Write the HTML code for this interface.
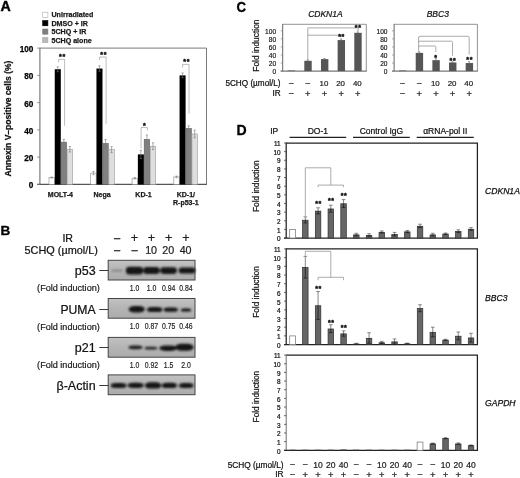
<!DOCTYPE html>
<html lang="en"><head><meta charset="utf-8"><title>Figure</title>
<style>
html,body{margin:0;padding:0;background:#fff;}
body{width:520px;height:478px;overflow:hidden;}
svg{display:block;filter:blur(0.32px);}
svg text{font-family:"Liberation Sans",sans-serif;}
</style></head><body>
<svg width="520" height="478" viewBox="0 0 520 478">
<rect x="0" y="0" width="520" height="478" fill="#fff"/>
<text x="0.5" y="11.2" font-size="14.2" text-anchor="start" font-weight="bold" font-style="normal" fill="#000" stroke="#000" stroke-width="0.4">A</text>
<text x="0.5" y="234.5" font-size="13.6" text-anchor="start" font-weight="bold" font-style="normal" fill="#000" stroke="#000" stroke-width="0.3">B</text>
<text x="0" y="0" font-size="14.4" text-anchor="start" font-weight="bold" font-style="normal" fill="#000" stroke="#000" stroke-width="0.3" transform="translate(236.6 11.5) scale(0.92 1)">C</text>
<text x="0" y="0" font-size="14.2" text-anchor="start" font-weight="bold" font-style="normal" fill="#000" stroke="#000" stroke-width="0.3" transform="translate(236.5 134.8) scale(0.99 1)">D</text>
<rect x="42.70" y="12.20" width="5.20" height="5.20" fill="#fff" stroke="#aaa" stroke-width="0.6"/>
<text x="51.5" y="17.4" font-size="7.1" text-anchor="start" font-weight="bold" font-style="normal" fill="#1a1a1a" stroke="#1a1a1a" stroke-width="0.25">Unirradiated</text>
<rect x="42.70" y="20.60" width="5.20" height="5.20" fill="#000" stroke="#000" stroke-width="0.6"/>
<text x="51.5" y="25.8" font-size="7.1" text-anchor="start" font-weight="bold" font-style="normal" fill="#1a1a1a" stroke="#1a1a1a" stroke-width="0.25">DMSO + IR</text>
<rect x="42.70" y="29.00" width="5.20" height="5.20" fill="#7d7d7d" stroke="#7d7d7d" stroke-width="0.6"/>
<text x="51.5" y="34.2" font-size="7.1" text-anchor="start" font-weight="bold" font-style="normal" fill="#1a1a1a" stroke="#1a1a1a" stroke-width="0.25">5CHQ + IR</text>
<rect x="42.70" y="37.50" width="5.20" height="5.20" fill="#b8b8b8" stroke="#aaa" stroke-width="0.6"/>
<text x="51.5" y="42.7" font-size="7.1" text-anchor="start" font-weight="bold" font-style="normal" fill="#1a1a1a" stroke="#1a1a1a" stroke-width="0.25">5CHQ alone</text>
<path d="M39.9 48.1H206.5V184.4" stroke="#7a7a7a" stroke-width="1" fill="none"/>
<line x1="39.9" y1="47.800000000000004" x2="39.9" y2="184.4" stroke="#707070" stroke-width="1.1"/>
<line x1="37.199999999999996" y1="184.4" x2="206.9" y2="184.4" stroke="#555" stroke-width="1.1"/>
<line x1="37.199999999999996" y1="184.4" x2="39.9" y2="184.4" stroke="#777" stroke-width="0.8"/>
<text x="33.4" y="188.3" font-size="8.2" text-anchor="end" font-weight="bold" font-style="normal" fill="#000" stroke="#000" stroke-width="0.25">0</text>
<line x1="37.199999999999996" y1="157.14000000000001" x2="39.9" y2="157.14000000000001" stroke="#777" stroke-width="0.8"/>
<text x="33.4" y="161.04000000000002" font-size="8.2" text-anchor="end" font-weight="bold" font-style="normal" fill="#000" stroke="#000" stroke-width="0.25">20</text>
<line x1="37.199999999999996" y1="129.88" x2="39.9" y2="129.88" stroke="#777" stroke-width="0.8"/>
<text x="33.4" y="133.78" font-size="8.2" text-anchor="end" font-weight="bold" font-style="normal" fill="#000" stroke="#000" stroke-width="0.25">40</text>
<line x1="37.199999999999996" y1="102.61999999999999" x2="39.9" y2="102.61999999999999" stroke="#777" stroke-width="0.8"/>
<text x="33.4" y="106.52" font-size="8.2" text-anchor="end" font-weight="bold" font-style="normal" fill="#000" stroke="#000" stroke-width="0.25">60</text>
<line x1="37.199999999999996" y1="75.36" x2="39.9" y2="75.36" stroke="#777" stroke-width="0.8"/>
<text x="33.4" y="79.26" font-size="8.2" text-anchor="end" font-weight="bold" font-style="normal" fill="#000" stroke="#000" stroke-width="0.25">80</text>
<line x1="37.199999999999996" y1="48.099999999999994" x2="39.9" y2="48.099999999999994" stroke="#777" stroke-width="0.8"/>
<text x="33.4" y="51.99999999999999" font-size="8.2" text-anchor="end" font-weight="bold" font-style="normal" fill="#000" stroke="#000" stroke-width="0.25">100</text>
<text x="10.5" y="118.5" font-size="8.55" text-anchor="middle" font-weight="bold" font-style="normal" fill="#111" transform="rotate(-90 10.5 118.5)" stroke="#111" stroke-width="0.25">Annexin V–positive cells (%)</text>
<rect x="49.00" y="177.59" width="5.45" height="6.81" fill="#fff" stroke="#8c8c8c" stroke-width="0.6"/>
<path d="M51.73 177.04V178.13M50.62 177.04H52.83M50.62 178.13H52.83" stroke="#777" stroke-width="0.6" fill="none"/>
<rect x="54.75" y="69.23" width="6.05" height="115.17" fill="#000" stroke="none" stroke-width="1"/>
<path d="M57.77 66.77V71.68M56.67 66.77H58.88M56.67 71.68H58.88" stroke="#777" stroke-width="0.6" fill="none"/>
<rect x="61.10" y="142.15" width="5.45" height="42.25" fill="#808080" stroke="#5c5c5c" stroke-width="0.6"/>
<path d="M63.83 139.42V144.87M62.73 139.42H64.92M62.73 144.87H64.92" stroke="#777" stroke-width="0.6" fill="none"/>
<rect x="67.15" y="149.23" width="5.45" height="35.17" fill="#dedede" stroke="#9a9a9a" stroke-width="0.6"/>
<path d="M69.88 146.51V151.96M68.78 146.51H70.97M68.78 151.96H70.97" stroke="#777" stroke-width="0.6" fill="none"/>
<text x="60.400000000000006" y="196.7" font-size="7" text-anchor="middle" font-weight="bold" font-style="normal" fill="#1a1a1a" stroke="#1a1a1a" stroke-width="0.25">MOLT-4</text>
<rect x="90.70" y="173.09" width="5.45" height="11.31" fill="#fff" stroke="#8c8c8c" stroke-width="0.6"/>
<path d="M93.43 171.45V174.72M92.33 171.45H94.53M92.33 174.72H94.53" stroke="#777" stroke-width="0.6" fill="none"/>
<rect x="96.45" y="68.54" width="6.05" height="115.86" fill="#000" stroke="none" stroke-width="1"/>
<path d="M99.48 65.82V71.27M98.38 65.82H100.58M98.38 71.27H100.58" stroke="#777" stroke-width="0.6" fill="none"/>
<rect x="102.80" y="143.51" width="5.45" height="40.89" fill="#808080" stroke="#5c5c5c" stroke-width="0.6"/>
<path d="M105.53 139.42V147.60M104.43 139.42H106.62M104.43 147.60H106.62" stroke="#777" stroke-width="0.6" fill="none"/>
<rect x="108.85" y="149.64" width="5.45" height="34.76" fill="#dedede" stroke="#9a9a9a" stroke-width="0.6"/>
<path d="M111.58 146.64V152.64M110.48 146.64H112.68M110.48 152.64H112.68" stroke="#777" stroke-width="0.6" fill="none"/>
<text x="102.1" y="196.7" font-size="7" text-anchor="middle" font-weight="bold" font-style="normal" fill="#1a1a1a" stroke="#1a1a1a" stroke-width="0.25">Nega</text>
<rect x="132.10" y="178.27" width="5.45" height="6.13" fill="#fff" stroke="#8c8c8c" stroke-width="0.6"/>
<path d="M134.83 177.59V178.95M133.73 177.59H135.93M133.73 178.95H135.93" stroke="#777" stroke-width="0.6" fill="none"/>
<rect x="137.85" y="154.41" width="6.05" height="29.99" fill="#000" stroke="none" stroke-width="1"/>
<path d="M140.88 150.32V158.50M139.78 150.32H141.98M139.78 158.50H141.98" stroke="#777" stroke-width="0.6" fill="none"/>
<rect x="144.20" y="139.42" width="5.45" height="44.98" fill="#808080" stroke="#5c5c5c" stroke-width="0.6"/>
<path d="M146.93 135.06V143.78M145.83 135.06H148.03M145.83 143.78H148.03" stroke="#777" stroke-width="0.6" fill="none"/>
<rect x="150.25" y="146.24" width="5.45" height="38.16" fill="#dedede" stroke="#9a9a9a" stroke-width="0.6"/>
<path d="M152.98 142.83V149.64M151.88 142.83H154.08M151.88 149.64H154.08" stroke="#777" stroke-width="0.6" fill="none"/>
<text x="143.5" y="196.7" font-size="7" text-anchor="middle" font-weight="bold" font-style="normal" fill="#1a1a1a" stroke="#1a1a1a" stroke-width="0.25">KD-1</text>
<rect x="173.80" y="176.90" width="5.45" height="7.50" fill="#fff" stroke="#8c8c8c" stroke-width="0.6"/>
<path d="M176.53 176.09V177.72M175.43 176.09H177.62M175.43 177.72H177.62" stroke="#777" stroke-width="0.6" fill="none"/>
<rect x="179.55" y="75.36" width="6.05" height="109.04" fill="#000" stroke="none" stroke-width="1"/>
<path d="M182.58 72.91V77.81M181.48 72.91H183.68M181.48 77.81H183.68" stroke="#777" stroke-width="0.6" fill="none"/>
<rect x="185.90" y="128.52" width="5.45" height="55.88" fill="#808080" stroke="#5c5c5c" stroke-width="0.6"/>
<path d="M188.62 125.79V131.24M187.53 125.79H189.72M187.53 131.24H189.72" stroke="#777" stroke-width="0.6" fill="none"/>
<rect x="191.95" y="133.97" width="5.45" height="50.43" fill="#dedede" stroke="#9a9a9a" stroke-width="0.6"/>
<path d="M194.68 130.15V137.79M193.58 130.15H195.78M193.58 137.79H195.78" stroke="#777" stroke-width="0.6" fill="none"/>
<text x="185.9" y="196.7" font-size="7" text-anchor="middle" font-weight="bold" font-style="normal" fill="#1a1a1a" stroke="#1a1a1a" stroke-width="0.25">KD-1/</text>
<text x="185.9" y="205.3" font-size="7" text-anchor="middle" font-weight="bold" font-style="normal" fill="#1a1a1a" stroke="#1a1a1a" stroke-width="0.25">R-p53-1</text>
<path d="M58.6 62.3V59.4H64.6V125.8" stroke="#999" stroke-width="0.65" fill="none"/>
<text x="62.49999999999999" y="58.9" font-size="7" text-anchor="middle" font-weight="bold" font-style="normal" fill="#111" stroke="#111" stroke-width="0.42" stroke-linejoin="round" letter-spacing="0.7">**</text>
<path d="M99.6 60.0V57.0H106.1V123.8" stroke="#999" stroke-width="0.65" fill="none"/>
<text x="103.75" y="57.0" font-size="7" text-anchor="middle" font-weight="bold" font-style="normal" fill="#111" stroke="#111" stroke-width="0.42" stroke-linejoin="round" letter-spacing="0.7">**</text>
<path d="M141.1 148.5V127.4H147.3V130.5" stroke="#999" stroke-width="0.65" fill="none"/>
<text x="144.6" y="127.6" font-size="7" text-anchor="middle" font-weight="bold" font-style="normal" fill="#111" stroke="#111" stroke-width="0.42" stroke-linejoin="round" letter-spacing="0.7">*</text>
<path d="M182.6 67.5V64.4H189.0V113.6" stroke="#999" stroke-width="0.65" fill="none"/>
<text x="186.70000000000002" y="63.9" font-size="7" text-anchor="middle" font-weight="bold" font-style="normal" fill="#111" stroke="#111" stroke-width="0.42" stroke-linejoin="round" letter-spacing="0.7">**</text>
<text x="73" y="241.6" font-size="10.6" text-anchor="end" font-weight="normal" font-style="normal" fill="#111" stroke="#111" stroke-width="0.22">IR</text>
<text x="98" y="254.2" font-size="10.9" text-anchor="end" font-weight="normal" font-style="normal" fill="#111" stroke="#111" stroke-width="0.22">5CHQ (µmol/L)</text>
<text x="117.0" y="242.5" font-size="12.6" text-anchor="middle" font-weight="normal" font-style="normal" fill="#222" stroke="#222" stroke-width="0.22">−</text>
<text x="117.0" y="254.60000000000002" font-size="12.5" text-anchor="middle" font-weight="normal" font-style="normal" fill="#222" stroke="#222" stroke-width="0.22">−</text>
<text x="134.5" y="242.2" font-size="12.6" text-anchor="middle" font-weight="normal" font-style="normal" fill="#222" stroke="#222" stroke-width="0.22">+</text>
<text x="134.5" y="254.60000000000002" font-size="12.5" text-anchor="middle" font-weight="normal" font-style="normal" fill="#222" stroke="#222" stroke-width="0.22">−</text>
<text x="151.5" y="242.2" font-size="12.6" text-anchor="middle" font-weight="normal" font-style="normal" fill="#222" stroke="#222" stroke-width="0.22">+</text>
<text x="151.1" y="254.3" font-size="10.7" text-anchor="middle" font-weight="normal" font-style="normal" fill="#222" stroke="#222" stroke-width="0.22">10</text>
<text x="168.6" y="242.2" font-size="12.6" text-anchor="middle" font-weight="normal" font-style="normal" fill="#222" stroke="#222" stroke-width="0.22">+</text>
<text x="168.2" y="254.3" font-size="10.7" text-anchor="middle" font-weight="normal" font-style="normal" fill="#222" stroke="#222" stroke-width="0.22">20</text>
<text x="186.0" y="242.2" font-size="12.6" text-anchor="middle" font-weight="normal" font-style="normal" fill="#222" stroke="#222" stroke-width="0.22">+</text>
<text x="185.6" y="254.3" font-size="10.7" text-anchor="middle" font-weight="normal" font-style="normal" fill="#222" stroke="#222" stroke-width="0.22">40</text>
<defs><linearGradient id="gelg" x1="0" y1="0" x2="0" y2="1"><stop offset="0" stop-color="#c2c2c2"/><stop offset="0.5" stop-color="#b4b4b4"/><stop offset="1" stop-color="#acacac"/></linearGradient><filter id="bl" x="-20%" y="-60%" width="140%" height="220%"><feGaussianBlur stdDeviation="0.85"/></filter></defs>
<rect x="108.20" y="260.30" width="86.80" height="19.70" fill="url(#gelg)" stroke="#444" stroke-width="1"/>
<line x1="99.3" y1="270.5" x2="108.2" y2="270.5" stroke="#222" stroke-width="0.9"/>
<text x="95.6" y="274.8" font-size="12.5" text-anchor="end" font-weight="normal" font-style="normal" fill="#111" stroke="#111" stroke-width="0.22">p53</text>
<g filter="url(#bl)">
<rect x="111.50" y="269.80" width="11" height="1.6" rx="0.76" ry="0.80" fill="#161616" opacity="0.3"/>
<rect x="125.80" y="266.70" width="17.4" height="7.8" rx="3.70" ry="3.90" fill="#161616" opacity="1"/>
<rect x="143.20" y="267.10" width="16.6" height="7.0" rx="3.32" ry="3.50" fill="#161616" opacity="1"/>
<rect x="160.30" y="267.30" width="16.6" height="6.6" rx="3.13" ry="3.30" fill="#161616" opacity="1"/>
<rect x="178.70" y="267.60" width="16.6" height="6.0" rx="2.85" ry="3.00" fill="#161616" opacity="1"/>
</g>
<rect x="108.20" y="298.50" width="86.80" height="19.70" fill="url(#gelg)" stroke="#444" stroke-width="1"/>
<line x1="99.3" y1="309.5" x2="108.2" y2="309.5" stroke="#222" stroke-width="0.9"/>
<text x="95.6" y="313.8" font-size="12.2" text-anchor="end" font-weight="normal" font-style="normal" fill="#111" stroke="#111" stroke-width="0.22">PUMA</text>
<g filter="url(#bl)">
<rect x="128.70" y="306.00" width="16" height="6.4" rx="5.28" ry="3.20" fill="#161616" opacity="1"/>
<rect x="147.00" y="306.90" width="15.4" height="5.2" rx="5.08" ry="2.60" fill="#161616" opacity="1"/>
<rect x="163.70" y="307.60" width="14.2" height="4.2" rx="4.69" ry="2.10" fill="#161616" opacity="1"/>
<rect x="180.80" y="308.45" width="10.4" height="3.1" rx="3.43" ry="1.55" fill="#161616" opacity="1"/>
</g>
<rect x="108.20" y="337.40" width="86.80" height="19.80" fill="url(#gelg)" stroke="#444" stroke-width="1"/>
<line x1="99.3" y1="347.5" x2="108.2" y2="347.5" stroke="#222" stroke-width="0.9"/>
<text x="95.6" y="351.8" font-size="12.5" text-anchor="end" font-weight="normal" font-style="normal" fill="#111" stroke="#111" stroke-width="0.22">p21</text>
<g filter="url(#bl)">
<rect x="128.50" y="345.40" width="14" height="3.8" rx="4.62" ry="1.90" fill="#161616" opacity="0.95"/>
<rect x="144.65" y="346.85" width="12.5" height="2.7" rx="4.12" ry="1.35" fill="#161616" opacity="0.9"/>
<rect x="159.45" y="345.50" width="17.5" height="5.4" rx="5.78" ry="2.70" fill="#161616" opacity="1"/>
<rect x="175.20" y="343.70" width="18.4" height="7.0" rx="6.07" ry="3.50" fill="#161616" opacity="1"/>
</g>
<rect x="108.20" y="374.90" width="86.80" height="19.80" fill="url(#gelg)" stroke="#444" stroke-width="1"/>
<line x1="99.3" y1="385.5" x2="108.2" y2="385.5" stroke="#222" stroke-width="0.9"/>
<text x="95.6" y="389.8" font-size="12.5" text-anchor="end" font-weight="normal" font-style="normal" fill="#111" stroke="#111" stroke-width="0.22">β-Actin</text>
<g filter="url(#bl)">
<rect x="110.70" y="382.90" width="15.8" height="5.0" rx="5.21" ry="2.50" fill="#161616" opacity="1"/>
<rect x="127.60" y="382.70" width="16.2" height="5.4" rx="5.35" ry="2.70" fill="#161616" opacity="1"/>
<rect x="144.90" y="382.20" width="16.4" height="6.4" rx="5.41" ry="3.20" fill="#161616" opacity="1"/>
<rect x="161.90" y="382.80" width="15" height="5.2" rx="4.95" ry="2.60" fill="#161616" opacity="1"/>
<rect x="178.90" y="382.90" width="14.6" height="5.0" rx="4.82" ry="2.50" fill="#161616" opacity="1"/>
</g>
<text x="99.8" y="291.1" font-size="9.1" text-anchor="end" font-weight="normal" font-style="normal" fill="#222" stroke="#222" stroke-width="0.22">(Fold induction)</text>
<text x="134.5" y="290.8" font-size="8.2" text-anchor="middle" font-weight="normal" font-style="normal" fill="#222" stroke="#222" stroke-width="0.18" transform="translate(134.5 0) scale(0.84 1) translate(-134.5 0)">1.0</text>
<text x="151.5" y="290.8" font-size="8.2" text-anchor="middle" font-weight="normal" font-style="normal" fill="#222" stroke="#222" stroke-width="0.18" transform="translate(151.5 0) scale(0.84 1) translate(-151.5 0)">1.0</text>
<text x="168.6" y="290.8" font-size="8.2" text-anchor="middle" font-weight="normal" font-style="normal" fill="#222" stroke="#222" stroke-width="0.18" transform="translate(168.6 0) scale(0.84 1) translate(-168.6 0)">0.94</text>
<text x="186.0" y="290.8" font-size="8.2" text-anchor="middle" font-weight="normal" font-style="normal" fill="#222" stroke="#222" stroke-width="0.18" transform="translate(186.0 0) scale(0.84 1) translate(-186.0 0)">0.84</text>
<text x="99.8" y="330.1" font-size="9.1" text-anchor="end" font-weight="normal" font-style="normal" fill="#222" stroke="#222" stroke-width="0.22">(Fold induction)</text>
<text x="134.5" y="329.3" font-size="8.2" text-anchor="middle" font-weight="normal" font-style="normal" fill="#222" stroke="#222" stroke-width="0.18" transform="translate(134.5 0) scale(0.84 1) translate(-134.5 0)">1.0</text>
<text x="151.5" y="329.3" font-size="8.2" text-anchor="middle" font-weight="normal" font-style="normal" fill="#222" stroke="#222" stroke-width="0.18" transform="translate(151.5 0) scale(0.84 1) translate(-151.5 0)">0.87</text>
<text x="168.6" y="329.3" font-size="8.2" text-anchor="middle" font-weight="normal" font-style="normal" fill="#222" stroke="#222" stroke-width="0.18" transform="translate(168.6 0) scale(0.84 1) translate(-168.6 0)">0.75</text>
<text x="186.0" y="329.3" font-size="8.2" text-anchor="middle" font-weight="normal" font-style="normal" fill="#222" stroke="#222" stroke-width="0.18" transform="translate(186.0 0) scale(0.84 1) translate(-186.0 0)">0.46</text>
<text x="99.8" y="368.3" font-size="9.1" text-anchor="end" font-weight="normal" font-style="normal" fill="#222" stroke="#222" stroke-width="0.22">(Fold induction)</text>
<text x="134.5" y="368.0" font-size="8.2" text-anchor="middle" font-weight="normal" font-style="normal" fill="#222" stroke="#222" stroke-width="0.18" transform="translate(134.5 0) scale(0.84 1) translate(-134.5 0)">1.0</text>
<text x="151.5" y="368.0" font-size="8.2" text-anchor="middle" font-weight="normal" font-style="normal" fill="#222" stroke="#222" stroke-width="0.18" transform="translate(151.5 0) scale(0.84 1) translate(-151.5 0)">0.92</text>
<text x="168.6" y="368.0" font-size="8.2" text-anchor="middle" font-weight="normal" font-style="normal" fill="#222" stroke="#222" stroke-width="0.18" transform="translate(168.6 0) scale(0.84 1) translate(-168.6 0)">1.5</text>
<text x="186.0" y="368.0" font-size="8.2" text-anchor="middle" font-weight="normal" font-style="normal" fill="#222" stroke="#222" stroke-width="0.18" transform="translate(186.0 0) scale(0.84 1) translate(-186.0 0)">2.0</text>
<path d="M282.7 24.3H366.3V71.1" stroke="#777" stroke-width="0.8" fill="none"/>
<line x1="282.7" y1="23.900000000000002" x2="282.7" y2="71.1" stroke="#666" stroke-width="1"/>
<line x1="280.7" y1="71.1" x2="366.7" y2="71.1" stroke="#555" stroke-width="1"/>
<line x1="280.59999999999997" y1="71.1" x2="282.7" y2="71.1" stroke="#888" stroke-width="0.7"/>
<text x="276.09999999999997" y="73.8" font-size="6.6" text-anchor="end" font-weight="normal" font-style="normal" fill="#111" stroke="#111" stroke-width="0.15">0</text>
<line x1="280.59999999999997" y1="63.03999999999999" x2="282.7" y2="63.03999999999999" stroke="#888" stroke-width="0.7"/>
<text x="276.09999999999997" y="65.74" font-size="6.6" text-anchor="end" font-weight="normal" font-style="normal" fill="#111" stroke="#111" stroke-width="0.15">20</text>
<line x1="280.59999999999997" y1="54.97999999999999" x2="282.7" y2="54.97999999999999" stroke="#888" stroke-width="0.7"/>
<text x="276.09999999999997" y="57.67999999999999" font-size="6.6" text-anchor="end" font-weight="normal" font-style="normal" fill="#111" stroke="#111" stroke-width="0.15">40</text>
<line x1="280.59999999999997" y1="46.919999999999995" x2="282.7" y2="46.919999999999995" stroke="#888" stroke-width="0.7"/>
<text x="276.09999999999997" y="49.62" font-size="6.6" text-anchor="end" font-weight="normal" font-style="normal" fill="#111" stroke="#111" stroke-width="0.15">60</text>
<line x1="280.59999999999997" y1="38.85999999999999" x2="282.7" y2="38.85999999999999" stroke="#888" stroke-width="0.7"/>
<text x="276.09999999999997" y="41.559999999999995" font-size="6.6" text-anchor="end" font-weight="normal" font-style="normal" fill="#111" stroke="#111" stroke-width="0.15">80</text>
<line x1="280.59999999999997" y1="30.79999999999999" x2="282.7" y2="30.79999999999999" stroke="#888" stroke-width="0.7"/>
<text x="276.09999999999997" y="33.49999999999999" font-size="6.6" text-anchor="end" font-weight="normal" font-style="normal" fill="#111" stroke="#111" stroke-width="0.15">100</text>
<text x="325.4" y="16.9" font-size="8.5" text-anchor="middle" font-weight="normal" font-style="italic" fill="#111" stroke="#111" stroke-width="0.22">CDKN1A</text>
<rect x="287.65" y="70.50" width="7.40" height="0.60" fill="#565656" stroke="none" stroke-width="1"/>
<text x="291.15" y="86.7" font-size="9.4" text-anchor="middle" font-weight="normal" font-style="normal" fill="#222" stroke="#222" stroke-width="0.22">−</text>
<text x="291.15" y="96.7" font-size="9.4" text-anchor="middle" font-weight="normal" font-style="normal" fill="#222" stroke="#222" stroke-width="0.22">−</text>
<rect x="304.31" y="60.82" width="7.40" height="10.28" fill="#565656" stroke="none" stroke-width="1"/>
<path d="M307.81 59.61V60.82M306.81 59.61H308.81M306.81 60.82H308.81" stroke="#777" stroke-width="0.6" fill="none"/>
<text x="307.81" y="86.7" font-size="9.4" text-anchor="middle" font-weight="normal" font-style="normal" fill="#222" stroke="#222" stroke-width="0.22">−</text>
<text x="307.81" y="96.7" font-size="9.4" text-anchor="middle" font-weight="normal" font-style="normal" fill="#222" stroke="#222" stroke-width="0.22">+</text>
<rect x="320.97" y="59.09" width="7.40" height="12.01" fill="#565656" stroke="none" stroke-width="1"/>
<path d="M324.47 58.49V59.09M323.47 58.49H325.47M323.47 59.09H325.47" stroke="#777" stroke-width="0.6" fill="none"/>
<text x="323.96999999999997" y="86.2" font-size="7.9" text-anchor="middle" font-weight="normal" font-style="normal" fill="#222" stroke="#222" stroke-width="0.22">10</text>
<text x="324.46999999999997" y="96.7" font-size="9.4" text-anchor="middle" font-weight="normal" font-style="normal" fill="#222" stroke="#222" stroke-width="0.22">+</text>
<rect x="337.63" y="40.07" width="7.40" height="31.03" fill="#565656" stroke="none" stroke-width="1"/>
<path d="M341.13 38.86V40.07M340.13 38.86H342.13M340.13 40.07H342.13" stroke="#777" stroke-width="0.6" fill="none"/>
<text x="340.63" y="86.2" font-size="7.9" text-anchor="middle" font-weight="normal" font-style="normal" fill="#222" stroke="#222" stroke-width="0.22">20</text>
<text x="341.13" y="96.7" font-size="9.4" text-anchor="middle" font-weight="normal" font-style="normal" fill="#222" stroke="#222" stroke-width="0.22">+</text>
<rect x="354.29" y="32.81" width="7.40" height="38.29" fill="#565656" stroke="none" stroke-width="1"/>
<path d="M357.79 30.80V32.81M356.79 30.80H358.79M356.79 32.81H358.79" stroke="#777" stroke-width="0.6" fill="none"/>
<text x="357.28999999999996" y="86.2" font-size="7.9" text-anchor="middle" font-weight="normal" font-style="normal" fill="#222" stroke="#222" stroke-width="0.22">40</text>
<text x="357.78999999999996" y="96.7" font-size="9.4" text-anchor="middle" font-weight="normal" font-style="normal" fill="#222" stroke="#222" stroke-width="0.22">+</text>
<text x="280.6" y="86.2" font-size="8.2" text-anchor="end" font-weight="normal" font-style="normal" fill="#111" stroke="#111" stroke-width="0.22">5CHQ (µmol/L)</text>
<text x="280.6" y="95.9" font-size="8.2" text-anchor="end" font-weight="normal" font-style="normal" fill="#111" stroke="#111" stroke-width="0.22">IR</text>
<text x="259.3" y="45.6" font-size="8.4" text-anchor="middle" font-weight="normal" font-style="normal" fill="#111" transform="rotate(-90 259.3 45.6)" stroke="#111" stroke-width="0.22">Fold induction</text>
<path d="M307.81 59.211499999999994V27.9H358.18999999999994V30.0" stroke="#888" stroke-width="0.7" fill="none"/>
<path d="M307.81 35.2H341.13V37.2" stroke="#888" stroke-width="0.7" fill="none"/>
<text x="341.63" y="39.4" font-size="7.0" text-anchor="middle" font-weight="bold" font-style="normal" fill="#111" stroke="#111" stroke-width="0.42" stroke-linejoin="round" letter-spacing="0.7">**</text>
<text x="358.28999999999996" y="29.9" font-size="7.0" text-anchor="middle" font-weight="bold" font-style="normal" fill="#111" stroke="#111" stroke-width="0.42" stroke-linejoin="round" letter-spacing="0.7">**</text>
<path d="M394.1 24.3H477.4V71.1" stroke="#777" stroke-width="0.8" fill="none"/>
<line x1="394.1" y1="23.900000000000002" x2="394.1" y2="71.1" stroke="#666" stroke-width="1"/>
<line x1="392.1" y1="71.1" x2="477.79999999999995" y2="71.1" stroke="#555" stroke-width="1"/>
<line x1="392.0" y1="71.1" x2="394.1" y2="71.1" stroke="#888" stroke-width="0.7"/>
<text x="387.5" y="73.8" font-size="6.6" text-anchor="end" font-weight="normal" font-style="normal" fill="#111" stroke="#111" stroke-width="0.15">0</text>
<line x1="392.0" y1="63.03999999999999" x2="394.1" y2="63.03999999999999" stroke="#888" stroke-width="0.7"/>
<text x="387.5" y="65.74" font-size="6.6" text-anchor="end" font-weight="normal" font-style="normal" fill="#111" stroke="#111" stroke-width="0.15">20</text>
<line x1="392.0" y1="54.97999999999999" x2="394.1" y2="54.97999999999999" stroke="#888" stroke-width="0.7"/>
<text x="387.5" y="57.67999999999999" font-size="6.6" text-anchor="end" font-weight="normal" font-style="normal" fill="#111" stroke="#111" stroke-width="0.15">40</text>
<line x1="392.0" y1="46.919999999999995" x2="394.1" y2="46.919999999999995" stroke="#888" stroke-width="0.7"/>
<text x="387.5" y="49.62" font-size="6.6" text-anchor="end" font-weight="normal" font-style="normal" fill="#111" stroke="#111" stroke-width="0.15">60</text>
<line x1="392.0" y1="38.85999999999999" x2="394.1" y2="38.85999999999999" stroke="#888" stroke-width="0.7"/>
<text x="387.5" y="41.559999999999995" font-size="6.6" text-anchor="end" font-weight="normal" font-style="normal" fill="#111" stroke="#111" stroke-width="0.15">80</text>
<line x1="392.0" y1="30.79999999999999" x2="394.1" y2="30.79999999999999" stroke="#888" stroke-width="0.7"/>
<text x="387.5" y="33.49999999999999" font-size="6.6" text-anchor="end" font-weight="normal" font-style="normal" fill="#111" stroke="#111" stroke-width="0.15">100</text>
<text x="437.8" y="16.9" font-size="8.5" text-anchor="middle" font-weight="normal" font-style="italic" fill="#111" stroke="#111" stroke-width="0.22">BBC3</text>
<rect x="399.05" y="70.50" width="7.40" height="0.60" fill="#565656" stroke="none" stroke-width="1"/>
<text x="402.55" y="86.7" font-size="9.4" text-anchor="middle" font-weight="normal" font-style="normal" fill="#222" stroke="#222" stroke-width="0.22">−</text>
<text x="402.55" y="96.7" font-size="9.4" text-anchor="middle" font-weight="normal" font-style="normal" fill="#222" stroke="#222" stroke-width="0.22">−</text>
<rect x="415.71" y="52.88" width="7.40" height="18.22" fill="#565656" stroke="none" stroke-width="1"/>
<path d="M419.21 51.68V52.88M418.21 51.68H420.21M418.21 52.88H420.21" stroke="#777" stroke-width="0.6" fill="none"/>
<text x="419.21000000000004" y="86.7" font-size="9.4" text-anchor="middle" font-weight="normal" font-style="normal" fill="#222" stroke="#222" stroke-width="0.22">−</text>
<text x="419.21000000000004" y="96.7" font-size="9.4" text-anchor="middle" font-weight="normal" font-style="normal" fill="#222" stroke="#222" stroke-width="0.22">+</text>
<rect x="432.37" y="60.14" width="7.40" height="10.96" fill="#565656" stroke="none" stroke-width="1"/>
<path d="M435.87 58.53V60.14M434.87 58.53H436.87M434.87 60.14H436.87" stroke="#777" stroke-width="0.6" fill="none"/>
<text x="435.37" y="86.2" font-size="7.9" text-anchor="middle" font-weight="normal" font-style="normal" fill="#222" stroke="#222" stroke-width="0.22">10</text>
<text x="435.87" y="96.7" font-size="9.4" text-anchor="middle" font-weight="normal" font-style="normal" fill="#222" stroke="#222" stroke-width="0.22">+</text>
<rect x="449.03" y="62.44" width="7.40" height="8.66" fill="#565656" stroke="none" stroke-width="1"/>
<path d="M452.53 61.23V62.44M451.53 61.23H453.53M451.53 62.44H453.53" stroke="#777" stroke-width="0.6" fill="none"/>
<text x="452.03000000000003" y="86.2" font-size="7.9" text-anchor="middle" font-weight="normal" font-style="normal" fill="#222" stroke="#222" stroke-width="0.22">20</text>
<text x="452.53000000000003" y="96.7" font-size="9.4" text-anchor="middle" font-weight="normal" font-style="normal" fill="#222" stroke="#222" stroke-width="0.22">+</text>
<rect x="465.69" y="63.04" width="7.40" height="8.06" fill="#565656" stroke="none" stroke-width="1"/>
<path d="M469.19 61.43V63.04M468.19 61.43H470.19M468.19 63.04H470.19" stroke="#777" stroke-width="0.6" fill="none"/>
<text x="468.69" y="86.2" font-size="7.9" text-anchor="middle" font-weight="normal" font-style="normal" fill="#222" stroke="#222" stroke-width="0.22">40</text>
<text x="469.19" y="96.7" font-size="9.4" text-anchor="middle" font-weight="normal" font-style="normal" fill="#222" stroke="#222" stroke-width="0.22">+</text>
<path d="M418.61 37.5Q418.61 36.3 419.81 36.3H467.99Q469.19 36.3 469.19 37.5V54.6" stroke="#888" stroke-width="0.7" fill="none"/>
<path d="M418.61 42.400000000000006Q418.61 41.2 419.81 41.2H451.33000000000004Q452.53000000000003 41.2 452.53000000000003 42.400000000000006V55.8" stroke="#888" stroke-width="0.7" fill="none"/>
<path d="M418.61 47.2Q418.61 46.0 419.81 46.0H434.67Q435.87 46.0 435.87 47.2V52.0" stroke="#888" stroke-width="0.7" fill="none"/>
<line x1="418.61" y1="37" x2="418.61" y2="51.5" stroke="#888" stroke-width="0.7"/>
<text x="435.87" y="59.7" font-size="7.0" text-anchor="middle" font-weight="bold" font-style="normal" fill="#111" stroke="#111" stroke-width="0.42" stroke-linejoin="round" letter-spacing="0.7">*</text>
<text x="453.03000000000003" y="63.3" font-size="7.0" text-anchor="middle" font-weight="bold" font-style="normal" fill="#111" stroke="#111" stroke-width="0.42" stroke-linejoin="round" letter-spacing="0.7">**</text>
<text x="469.69" y="61.6" font-size="7.0" text-anchor="middle" font-weight="bold" font-style="normal" fill="#111" stroke="#111" stroke-width="0.42" stroke-linejoin="round" letter-spacing="0.7">**</text>
<text x="270.2" y="134.4" font-size="8.5" text-anchor="start" font-weight="normal" font-style="normal" fill="#111" stroke="#111" stroke-width="0.22">IP</text>
<text x="317.9" y="134.4" font-size="8.5" text-anchor="middle" font-weight="normal" font-style="normal" fill="#111" stroke="#111" stroke-width="0.22">DO-1</text>
<line x1="289.6" y1="137.4" x2="346.2" y2="137.4" stroke="#222" stroke-width="1.1"/>
<text x="381.4" y="134.4" font-size="8.5" text-anchor="middle" font-weight="normal" font-style="normal" fill="#111" stroke="#111" stroke-width="0.22">Control IgG</text>
<line x1="353.0" y1="137.4" x2="409.8" y2="137.4" stroke="#222" stroke-width="1.1"/>
<text x="445.25" y="134.4" font-size="8.5" text-anchor="middle" font-weight="normal" font-style="normal" fill="#111" stroke="#111" stroke-width="0.22">αRNA-pol II</text>
<line x1="416.7" y1="137.4" x2="473.8" y2="137.4" stroke="#222" stroke-width="1.1"/>
<path d="M286.2 143.0H477.4V238.04000000000002" stroke="#222" stroke-width="1.25" fill="none"/>
<line x1="286.2" y1="142.4" x2="286.2" y2="238.04000000000002" stroke="#222" stroke-width="1.25"/>
<line x1="284.0" y1="238.04000000000002" x2="478.0" y2="238.04000000000002" stroke="#222" stroke-width="1.25"/>
<line x1="284.0" y1="238.04000000000002" x2="286.2" y2="238.04000000000002" stroke="#333" stroke-width="0.7"/>
<text x="280.6" y="241.14000000000001" font-size="6.4" text-anchor="end" font-weight="normal" font-style="normal" fill="#111" stroke="#111" stroke-width="0.22">0</text>
<line x1="284.0" y1="229.40000000000003" x2="286.2" y2="229.40000000000003" stroke="#333" stroke-width="0.7"/>
<text x="280.6" y="232.50000000000003" font-size="6.4" text-anchor="end" font-weight="normal" font-style="normal" fill="#111" stroke="#111" stroke-width="0.22">1</text>
<line x1="284.0" y1="220.76000000000002" x2="286.2" y2="220.76000000000002" stroke="#333" stroke-width="0.7"/>
<text x="280.6" y="223.86" font-size="6.4" text-anchor="end" font-weight="normal" font-style="normal" fill="#111" stroke="#111" stroke-width="0.22">2</text>
<line x1="284.0" y1="212.12" x2="286.2" y2="212.12" stroke="#333" stroke-width="0.7"/>
<text x="280.6" y="215.22" font-size="6.4" text-anchor="end" font-weight="normal" font-style="normal" fill="#111" stroke="#111" stroke-width="0.22">3</text>
<line x1="284.0" y1="203.48000000000002" x2="286.2" y2="203.48000000000002" stroke="#333" stroke-width="0.7"/>
<text x="280.6" y="206.58" font-size="6.4" text-anchor="end" font-weight="normal" font-style="normal" fill="#111" stroke="#111" stroke-width="0.22">4</text>
<line x1="284.0" y1="194.84000000000003" x2="286.2" y2="194.84000000000003" stroke="#333" stroke-width="0.7"/>
<text x="280.6" y="197.94000000000003" font-size="6.4" text-anchor="end" font-weight="normal" font-style="normal" fill="#111" stroke="#111" stroke-width="0.22">5</text>
<line x1="284.0" y1="186.20000000000002" x2="286.2" y2="186.20000000000002" stroke="#333" stroke-width="0.7"/>
<text x="280.6" y="189.3" font-size="6.4" text-anchor="end" font-weight="normal" font-style="normal" fill="#111" stroke="#111" stroke-width="0.22">6</text>
<line x1="284.0" y1="177.56" x2="286.2" y2="177.56" stroke="#333" stroke-width="0.7"/>
<text x="280.6" y="180.66" font-size="6.4" text-anchor="end" font-weight="normal" font-style="normal" fill="#111" stroke="#111" stroke-width="0.22">7</text>
<line x1="284.0" y1="168.92000000000002" x2="286.2" y2="168.92000000000002" stroke="#333" stroke-width="0.7"/>
<text x="280.6" y="172.02" font-size="6.4" text-anchor="end" font-weight="normal" font-style="normal" fill="#111" stroke="#111" stroke-width="0.22">8</text>
<line x1="284.0" y1="160.28000000000003" x2="286.2" y2="160.28000000000003" stroke="#333" stroke-width="0.7"/>
<text x="280.6" y="163.38000000000002" font-size="6.4" text-anchor="end" font-weight="normal" font-style="normal" fill="#111" stroke="#111" stroke-width="0.22">9</text>
<line x1="284.0" y1="151.64000000000001" x2="286.2" y2="151.64000000000001" stroke="#333" stroke-width="0.7"/>
<text x="280.6" y="154.74" font-size="6.4" text-anchor="end" font-weight="normal" font-style="normal" fill="#111" stroke="#111" stroke-width="0.22">10</text>
<line x1="284.0" y1="143.0" x2="286.2" y2="143.0" stroke="#333" stroke-width="0.7"/>
<text x="280.6" y="146.1" font-size="6.4" text-anchor="end" font-weight="normal" font-style="normal" fill="#111" stroke="#111" stroke-width="0.22">11</text>
<text x="259.4" y="186.2" font-size="8.3" text-anchor="middle" font-weight="normal" font-style="normal" fill="#111" transform="rotate(-90 259.4 186.2)" stroke="#111" stroke-width="0.22">Fold induction</text>
<text x="485.0" y="194.2" font-size="8.6" text-anchor="start" font-weight="normal" font-style="italic" fill="#111" stroke="#111" stroke-width="0.25">CDKN1A</text>
<rect x="289.67" y="229.40" width="5.80" height="8.64" fill="#fff" stroke="#808080" stroke-width="0.8"/>
<rect x="302.57" y="220.20" width="5.50" height="17.84" fill="#666" stroke="#2c2c2c" stroke-width="0.7"/>
<path d="M305.32 216.87V219.90M303.52 216.87H307.12" stroke="#555" stroke-width="0.7" fill="none"/>
<path d="M305.32 219.90V222.92M303.52 222.92H307.12" stroke="#1a1a1a" stroke-width="0.75" fill="none"/>
<rect x="315.32" y="211.12" width="5.50" height="26.92" fill="#666" stroke="#2c2c2c" stroke-width="0.7"/>
<path d="M318.07 207.80V210.82M316.27 207.80H319.87" stroke="#555" stroke-width="0.7" fill="none"/>
<path d="M318.07 210.82V213.85M316.27 213.85H319.87" stroke="#1a1a1a" stroke-width="0.75" fill="none"/>
<rect x="328.06" y="208.96" width="5.50" height="29.08" fill="#666" stroke="#2c2c2c" stroke-width="0.7"/>
<path d="M330.81 205.21V208.66M329.01 205.21H332.61" stroke="#555" stroke-width="0.7" fill="none"/>
<path d="M330.81 208.66V212.12M329.01 212.12H332.61" stroke="#1a1a1a" stroke-width="0.75" fill="none"/>
<rect x="340.81" y="203.78" width="5.50" height="34.26" fill="#666" stroke="#2c2c2c" stroke-width="0.7"/>
<path d="M343.56 199.59V203.48M341.76 199.59H345.36" stroke="#555" stroke-width="0.7" fill="none"/>
<path d="M343.56 203.48V207.37M341.76 207.37H345.36" stroke="#1a1a1a" stroke-width="0.75" fill="none"/>
<rect x="353.56" y="234.88" width="5.50" height="3.16" fill="#666" stroke="#2c2c2c" stroke-width="0.7"/>
<path d="M356.31 233.29V234.58M354.51 233.29H358.11" stroke="#555" stroke-width="0.7" fill="none"/>
<path d="M356.31 234.58V235.88M354.51 235.88H358.11" stroke="#1a1a1a" stroke-width="0.75" fill="none"/>
<rect x="366.30" y="235.32" width="5.50" height="2.72" fill="#666" stroke="#2c2c2c" stroke-width="0.7"/>
<path d="M369.05 233.72V235.02M367.25 233.72H370.85" stroke="#555" stroke-width="0.7" fill="none"/>
<path d="M369.05 235.02V236.31M367.25 236.31H370.85" stroke="#1a1a1a" stroke-width="0.75" fill="none"/>
<rect x="379.05" y="232.29" width="5.50" height="5.75" fill="#666" stroke="#2c2c2c" stroke-width="0.7"/>
<path d="M381.80 230.96V231.99M380.00 230.96H383.60" stroke="#555" stroke-width="0.7" fill="none"/>
<path d="M381.80 231.99V233.03M380.00 233.03H383.60" stroke="#1a1a1a" stroke-width="0.75" fill="none"/>
<rect x="391.80" y="234.45" width="5.50" height="3.59" fill="#666" stroke="#2c2c2c" stroke-width="0.7"/>
<path d="M394.55 232.42V234.15M392.75 232.42H396.35" stroke="#555" stroke-width="0.7" fill="none"/>
<path d="M394.55 234.15V235.88M392.75 235.88H396.35" stroke="#1a1a1a" stroke-width="0.75" fill="none"/>
<rect x="404.54" y="231.86" width="5.50" height="6.18" fill="#666" stroke="#2c2c2c" stroke-width="0.7"/>
<path d="M407.29 230.52V231.56M405.49 230.52H409.09" stroke="#555" stroke-width="0.7" fill="none"/>
<path d="M407.29 231.56V232.60M405.49 232.60H409.09" stroke="#1a1a1a" stroke-width="0.75" fill="none"/>
<rect x="417.29" y="226.24" width="5.50" height="11.80" fill="#666" stroke="#2c2c2c" stroke-width="0.7"/>
<path d="M420.04 224.22V225.94M418.24 224.22H421.84" stroke="#555" stroke-width="0.7" fill="none"/>
<path d="M420.04 225.94V227.67M418.24 227.67H421.84" stroke="#1a1a1a" stroke-width="0.75" fill="none"/>
<rect x="430.04" y="234.88" width="5.50" height="3.16" fill="#666" stroke="#2c2c2c" stroke-width="0.7"/>
<path d="M432.79 233.29V234.58M430.99 233.29H434.59" stroke="#555" stroke-width="0.7" fill="none"/>
<path d="M432.79 234.58V235.88M430.99 235.88H434.59" stroke="#1a1a1a" stroke-width="0.75" fill="none"/>
<rect x="442.78" y="234.02" width="5.50" height="4.02" fill="#666" stroke="#2c2c2c" stroke-width="0.7"/>
<path d="M445.53 233.03V233.72M443.73 233.03H447.33" stroke="#555" stroke-width="0.7" fill="none"/>
<path d="M445.53 233.72V234.41M443.73 234.41H447.33" stroke="#1a1a1a" stroke-width="0.75" fill="none"/>
<rect x="455.53" y="231.43" width="5.50" height="6.61" fill="#666" stroke="#2c2c2c" stroke-width="0.7"/>
<path d="M458.28 229.83V231.13M456.48 229.83H460.08" stroke="#555" stroke-width="0.7" fill="none"/>
<path d="M458.28 231.13V232.42M456.48 232.42H460.08" stroke="#1a1a1a" stroke-width="0.75" fill="none"/>
<rect x="468.28" y="229.27" width="5.50" height="8.77" fill="#666" stroke="#2c2c2c" stroke-width="0.7"/>
<path d="M471.03 227.67V228.97M469.23 227.67H472.83" stroke="#555" stroke-width="0.7" fill="none"/>
<path d="M471.03 228.97V230.26M469.23 230.26H472.83" stroke="#1a1a1a" stroke-width="0.75" fill="none"/>
<path d="M305.32 216V167.8H330.81333333333333V185.1M318.06666666666666 187.2V185.1H343.56V187.2" stroke="#888" stroke-width="0.7" fill="none"/>
<text x="318.56666666666666" y="205.6" font-size="7.0" text-anchor="middle" font-weight="bold" font-style="normal" fill="#111" stroke="#111" stroke-width="0.42" stroke-linejoin="round" letter-spacing="0.7">**</text>
<text x="331.31333333333333" y="202.7" font-size="7.0" text-anchor="middle" font-weight="bold" font-style="normal" fill="#111" stroke="#111" stroke-width="0.42" stroke-linejoin="round" letter-spacing="0.7">**</text>
<text x="344.06" y="197.5" font-size="7.0" text-anchor="middle" font-weight="bold" font-style="normal" fill="#111" stroke="#111" stroke-width="0.42" stroke-linejoin="round" letter-spacing="0.7">**</text>
<path d="M286.2 248.9H477.4V344.6" stroke="#222" stroke-width="1.25" fill="none"/>
<line x1="286.2" y1="248.3" x2="286.2" y2="344.6" stroke="#222" stroke-width="1.25"/>
<line x1="284.0" y1="344.6" x2="478.0" y2="344.6" stroke="#222" stroke-width="1.25"/>
<line x1="284.0" y1="344.6" x2="286.2" y2="344.6" stroke="#333" stroke-width="0.7"/>
<text x="280.6" y="348.00000000000006" font-size="6.4" text-anchor="end" font-weight="normal" font-style="normal" fill="#111" stroke="#111" stroke-width="0.22">0</text>
<line x1="284.0" y1="335.90000000000003" x2="286.2" y2="335.90000000000003" stroke="#333" stroke-width="0.7"/>
<text x="280.6" y="339.30000000000007" font-size="6.4" text-anchor="end" font-weight="normal" font-style="normal" fill="#111" stroke="#111" stroke-width="0.22">1</text>
<line x1="284.0" y1="327.20000000000005" x2="286.2" y2="327.20000000000005" stroke="#333" stroke-width="0.7"/>
<text x="280.6" y="330.6000000000001" font-size="6.4" text-anchor="end" font-weight="normal" font-style="normal" fill="#111" stroke="#111" stroke-width="0.22">2</text>
<line x1="284.0" y1="318.5" x2="286.2" y2="318.5" stroke="#333" stroke-width="0.7"/>
<text x="280.6" y="321.90000000000003" font-size="6.4" text-anchor="end" font-weight="normal" font-style="normal" fill="#111" stroke="#111" stroke-width="0.22">3</text>
<line x1="284.0" y1="309.8" x2="286.2" y2="309.8" stroke="#333" stroke-width="0.7"/>
<text x="280.6" y="313.20000000000005" font-size="6.4" text-anchor="end" font-weight="normal" font-style="normal" fill="#111" stroke="#111" stroke-width="0.22">4</text>
<line x1="284.0" y1="301.1" x2="286.2" y2="301.1" stroke="#333" stroke-width="0.7"/>
<text x="280.6" y="304.50000000000006" font-size="6.4" text-anchor="end" font-weight="normal" font-style="normal" fill="#111" stroke="#111" stroke-width="0.22">5</text>
<line x1="284.0" y1="292.40000000000003" x2="286.2" y2="292.40000000000003" stroke="#333" stroke-width="0.7"/>
<text x="280.6" y="295.80000000000007" font-size="6.4" text-anchor="end" font-weight="normal" font-style="normal" fill="#111" stroke="#111" stroke-width="0.22">6</text>
<line x1="284.0" y1="283.70000000000005" x2="286.2" y2="283.70000000000005" stroke="#333" stroke-width="0.7"/>
<text x="280.6" y="287.1000000000001" font-size="6.4" text-anchor="end" font-weight="normal" font-style="normal" fill="#111" stroke="#111" stroke-width="0.22">7</text>
<line x1="284.0" y1="275.0" x2="286.2" y2="275.0" stroke="#333" stroke-width="0.7"/>
<text x="280.6" y="278.40000000000003" font-size="6.4" text-anchor="end" font-weight="normal" font-style="normal" fill="#111" stroke="#111" stroke-width="0.22">8</text>
<line x1="284.0" y1="266.3" x2="286.2" y2="266.3" stroke="#333" stroke-width="0.7"/>
<text x="280.6" y="269.70000000000005" font-size="6.4" text-anchor="end" font-weight="normal" font-style="normal" fill="#111" stroke="#111" stroke-width="0.22">9</text>
<line x1="284.0" y1="257.6" x2="286.2" y2="257.6" stroke="#333" stroke-width="0.7"/>
<text x="280.6" y="261.00000000000006" font-size="6.4" text-anchor="end" font-weight="normal" font-style="normal" fill="#111" stroke="#111" stroke-width="0.22">10</text>
<line x1="284.0" y1="248.90000000000003" x2="286.2" y2="248.90000000000003" stroke="#333" stroke-width="0.7"/>
<text x="280.6" y="252.30000000000004" font-size="6.4" text-anchor="end" font-weight="normal" font-style="normal" fill="#111" stroke="#111" stroke-width="0.22">11</text>
<text x="259.4" y="292.0" font-size="8.3" text-anchor="middle" font-weight="normal" font-style="normal" fill="#111" transform="rotate(-90 259.4 292.0)" stroke="#111" stroke-width="0.22">Fold induction</text>
<text x="485.0" y="300.8" font-size="8.6" text-anchor="start" font-weight="normal" font-style="italic" fill="#111" stroke="#111" stroke-width="0.25">BBC3</text>
<rect x="289.67" y="335.90" width="5.80" height="8.70" fill="#fff" stroke="#808080" stroke-width="0.8"/>
<rect x="302.57" y="267.47" width="5.50" height="77.13" fill="#666" stroke="#2c2c2c" stroke-width="0.7"/>
<path d="M305.32 256.30V267.17M303.52 256.30H307.12" stroke="#555" stroke-width="0.7" fill="none"/>
<path d="M305.32 267.17V278.05M303.52 278.05H307.12" stroke="#1a1a1a" stroke-width="0.75" fill="none"/>
<rect x="315.32" y="305.75" width="5.50" height="38.85" fill="#666" stroke="#2c2c2c" stroke-width="0.7"/>
<path d="M318.07 291.53V305.45M316.27 291.53H319.87" stroke="#555" stroke-width="0.7" fill="none"/>
<path d="M318.07 305.45V319.37M316.27 319.37H319.87" stroke="#1a1a1a" stroke-width="0.75" fill="none"/>
<rect x="328.06" y="328.98" width="5.50" height="15.62" fill="#666" stroke="#2c2c2c" stroke-width="0.7"/>
<path d="M330.81 324.76V328.68M329.01 324.76H332.61" stroke="#555" stroke-width="0.7" fill="none"/>
<path d="M330.81 328.68V332.59M329.01 332.59H332.61" stroke="#1a1a1a" stroke-width="0.75" fill="none"/>
<rect x="340.81" y="333.85" width="5.50" height="10.75" fill="#666" stroke="#2c2c2c" stroke-width="0.7"/>
<path d="M343.56 330.94V333.55M341.76 330.94H345.36" stroke="#555" stroke-width="0.7" fill="none"/>
<path d="M343.56 333.55V336.16M341.76 336.16H345.36" stroke="#1a1a1a" stroke-width="0.75" fill="none"/>
<rect x="353.56" y="344.03" width="5.50" height="0.57" fill="#666" stroke="#2c2c2c" stroke-width="0.7"/>
<path d="M356.31 343.30V343.73M354.51 343.30H358.11" stroke="#555" stroke-width="0.7" fill="none"/>
<path d="M356.31 343.73V344.17M354.51 344.17H358.11" stroke="#1a1a1a" stroke-width="0.75" fill="none"/>
<rect x="366.30" y="338.29" width="5.50" height="6.31" fill="#666" stroke="#2c2c2c" stroke-width="0.7"/>
<path d="M369.05 332.77V337.99M367.25 332.77H370.85" stroke="#555" stroke-width="0.7" fill="none"/>
<path d="M369.05 337.99V343.21M367.25 343.21H370.85" stroke="#1a1a1a" stroke-width="0.75" fill="none"/>
<rect x="379.05" y="342.73" width="5.50" height="1.87" fill="#666" stroke="#2c2c2c" stroke-width="0.7"/>
<path d="M381.80 341.38V342.43M380.00 341.38H383.60" stroke="#555" stroke-width="0.7" fill="none"/>
<path d="M381.80 342.43V343.47M380.00 343.47H383.60" stroke="#1a1a1a" stroke-width="0.75" fill="none"/>
<rect x="391.80" y="341.86" width="5.50" height="2.74" fill="#666" stroke="#2c2c2c" stroke-width="0.7"/>
<path d="M394.55 338.95V341.56M392.75 338.95H396.35" stroke="#555" stroke-width="0.7" fill="none"/>
<path d="M394.55 341.56V344.17M392.75 344.17H396.35" stroke="#1a1a1a" stroke-width="0.75" fill="none"/>
<rect x="404.54" y="343.86" width="5.50" height="0.74" fill="#666" stroke="#2c2c2c" stroke-width="0.7"/>
<path d="M407.29 343.12V343.56M405.49 343.12H409.09" stroke="#555" stroke-width="0.7" fill="none"/>
<path d="M407.29 343.56V343.99M405.49 343.99H409.09" stroke="#1a1a1a" stroke-width="0.75" fill="none"/>
<rect x="417.29" y="308.53" width="5.50" height="36.07" fill="#666" stroke="#2c2c2c" stroke-width="0.7"/>
<path d="M420.04 304.75V308.23M418.24 304.75H421.84" stroke="#555" stroke-width="0.7" fill="none"/>
<path d="M420.04 308.23V311.71M418.24 311.71H421.84" stroke="#1a1a1a" stroke-width="0.75" fill="none"/>
<rect x="430.04" y="332.29" width="5.50" height="12.31" fill="#666" stroke="#2c2c2c" stroke-width="0.7"/>
<path d="M432.79 327.20V331.99M430.99 327.20H434.59" stroke="#555" stroke-width="0.7" fill="none"/>
<path d="M432.79 331.99V336.77M430.99 336.77H434.59" stroke="#1a1a1a" stroke-width="0.75" fill="none"/>
<rect x="442.78" y="340.12" width="5.50" height="4.49" fill="#666" stroke="#2c2c2c" stroke-width="0.7"/>
<path d="M445.53 339.29V339.81M443.73 339.29H447.33" stroke="#555" stroke-width="0.7" fill="none"/>
<path d="M445.53 339.81V340.34M443.73 340.34H447.33" stroke="#1a1a1a" stroke-width="0.75" fill="none"/>
<rect x="455.53" y="336.20" width="5.50" height="8.40" fill="#666" stroke="#2c2c2c" stroke-width="0.7"/>
<path d="M458.28 331.99V335.90M456.48 331.99H460.08" stroke="#555" stroke-width="0.7" fill="none"/>
<path d="M458.28 335.90V339.81M456.48 339.81H460.08" stroke="#1a1a1a" stroke-width="0.75" fill="none"/>
<rect x="468.28" y="337.94" width="5.50" height="6.66" fill="#666" stroke="#2c2c2c" stroke-width="0.7"/>
<path d="M471.03 333.29V337.64M469.23 333.29H472.83" stroke="#555" stroke-width="0.7" fill="none"/>
<path d="M471.03 337.64V341.99M469.23 341.99H472.83" stroke="#1a1a1a" stroke-width="0.75" fill="none"/>
<path d="M305.32 255.4V251.3H330.81333333333333V277.3M318.06666666666666 280.2V277.3H343.56V280.2" stroke="#888" stroke-width="0.7" fill="none"/>
<text x="318.56666666666666" y="290.7" font-size="7.0" text-anchor="middle" font-weight="bold" font-style="normal" fill="#111" stroke="#111" stroke-width="0.42" stroke-linejoin="round" letter-spacing="0.7">**</text>
<text x="331.31333333333333" y="324.6" font-size="7.0" text-anchor="middle" font-weight="bold" font-style="normal" fill="#111" stroke="#111" stroke-width="0.42" stroke-linejoin="round" letter-spacing="0.7">**</text>
<text x="344.06" y="329.7" font-size="7.0" text-anchor="middle" font-weight="bold" font-style="normal" fill="#111" stroke="#111" stroke-width="0.42" stroke-linejoin="round" letter-spacing="0.7">**</text>
<path d="M286.2 355.1H477.4V450.305" stroke="#222" stroke-width="1.25" fill="none"/>
<line x1="286.2" y1="354.5" x2="286.2" y2="450.305" stroke="#707070" stroke-width="1.0"/>
<line x1="284.0" y1="450.305" x2="478.0" y2="450.305" stroke="#222" stroke-width="1.25"/>
<line x1="284.0" y1="450.305" x2="286.2" y2="450.305" stroke="#333" stroke-width="0.7"/>
<text x="280.6" y="453.605" font-size="6.4" text-anchor="end" font-weight="normal" font-style="normal" fill="#111" stroke="#111" stroke-width="0.22">0</text>
<line x1="284.0" y1="441.65000000000003" x2="286.2" y2="441.65000000000003" stroke="#333" stroke-width="0.7"/>
<text x="280.6" y="444.95000000000005" font-size="6.4" text-anchor="end" font-weight="normal" font-style="normal" fill="#111" stroke="#111" stroke-width="0.22">1</text>
<line x1="284.0" y1="432.995" x2="286.2" y2="432.995" stroke="#333" stroke-width="0.7"/>
<text x="280.6" y="436.295" font-size="6.4" text-anchor="end" font-weight="normal" font-style="normal" fill="#111" stroke="#111" stroke-width="0.22">2</text>
<line x1="284.0" y1="424.34000000000003" x2="286.2" y2="424.34000000000003" stroke="#333" stroke-width="0.7"/>
<text x="280.6" y="427.64000000000004" font-size="6.4" text-anchor="end" font-weight="normal" font-style="normal" fill="#111" stroke="#111" stroke-width="0.22">3</text>
<line x1="284.0" y1="415.685" x2="286.2" y2="415.685" stroke="#333" stroke-width="0.7"/>
<text x="280.6" y="418.985" font-size="6.4" text-anchor="end" font-weight="normal" font-style="normal" fill="#111" stroke="#111" stroke-width="0.22">4</text>
<line x1="284.0" y1="407.03000000000003" x2="286.2" y2="407.03000000000003" stroke="#333" stroke-width="0.7"/>
<text x="280.6" y="410.33000000000004" font-size="6.4" text-anchor="end" font-weight="normal" font-style="normal" fill="#111" stroke="#111" stroke-width="0.22">5</text>
<line x1="284.0" y1="398.375" x2="286.2" y2="398.375" stroke="#333" stroke-width="0.7"/>
<text x="280.6" y="401.675" font-size="6.4" text-anchor="end" font-weight="normal" font-style="normal" fill="#111" stroke="#111" stroke-width="0.22">6</text>
<line x1="284.0" y1="389.72" x2="286.2" y2="389.72" stroke="#333" stroke-width="0.7"/>
<text x="280.6" y="393.02000000000004" font-size="6.4" text-anchor="end" font-weight="normal" font-style="normal" fill="#111" stroke="#111" stroke-width="0.22">7</text>
<line x1="284.0" y1="381.065" x2="286.2" y2="381.065" stroke="#333" stroke-width="0.7"/>
<text x="280.6" y="384.365" font-size="6.4" text-anchor="end" font-weight="normal" font-style="normal" fill="#111" stroke="#111" stroke-width="0.22">8</text>
<line x1="284.0" y1="372.41" x2="286.2" y2="372.41" stroke="#333" stroke-width="0.7"/>
<text x="280.6" y="375.71000000000004" font-size="6.4" text-anchor="end" font-weight="normal" font-style="normal" fill="#111" stroke="#111" stroke-width="0.22">9</text>
<line x1="284.0" y1="363.755" x2="286.2" y2="363.755" stroke="#333" stroke-width="0.7"/>
<text x="280.6" y="367.055" font-size="6.4" text-anchor="end" font-weight="normal" font-style="normal" fill="#111" stroke="#111" stroke-width="0.22">10</text>
<line x1="284.0" y1="355.1" x2="286.2" y2="355.1" stroke="#333" stroke-width="0.7"/>
<text x="280.6" y="358.40000000000003" font-size="6.4" text-anchor="end" font-weight="normal" font-style="normal" fill="#111" stroke="#111" stroke-width="0.22">11</text>
<text x="259.4" y="396.6" font-size="8.3" text-anchor="middle" font-weight="normal" font-style="normal" fill="#111" transform="rotate(-90 259.4 396.6)" stroke="#111" stroke-width="0.22">Fold induction</text>
<text x="485.0" y="406.3" font-size="8.6" text-anchor="start" font-weight="normal" font-style="italic" fill="#111" stroke="#111" stroke-width="0.25">GAPDH</text>
<rect x="289.82" y="450.11" width="5.50" height="0.30" fill="#666" stroke="#2c2c2c" stroke-width="0.7"/>
<rect x="302.57" y="450.11" width="5.50" height="0.30" fill="#666" stroke="#2c2c2c" stroke-width="0.7"/>
<rect x="315.32" y="450.11" width="5.50" height="0.30" fill="#666" stroke="#2c2c2c" stroke-width="0.7"/>
<rect x="328.06" y="450.09" width="5.50" height="0.30" fill="#666" stroke="#2c2c2c" stroke-width="0.7"/>
<rect x="340.81" y="449.91" width="5.50" height="0.39" fill="#666" stroke="#2c2c2c" stroke-width="0.7"/>
<rect x="353.56" y="450.11" width="5.50" height="0.30" fill="#666" stroke="#2c2c2c" stroke-width="0.7"/>
<rect x="366.30" y="450.11" width="5.50" height="0.30" fill="#666" stroke="#2c2c2c" stroke-width="0.7"/>
<rect x="379.05" y="450.11" width="5.50" height="0.30" fill="#666" stroke="#2c2c2c" stroke-width="0.7"/>
<rect x="391.80" y="450.11" width="5.50" height="0.30" fill="#666" stroke="#2c2c2c" stroke-width="0.7"/>
<rect x="404.54" y="450.11" width="5.50" height="0.30" fill="#666" stroke="#2c2c2c" stroke-width="0.7"/>
<rect x="417.14" y="442.08" width="5.80" height="8.22" fill="#fff" stroke="#808080" stroke-width="0.8"/>
<rect x="430.04" y="443.85" width="5.50" height="6.45" fill="#666" stroke="#2c2c2c" stroke-width="0.7"/>
<path d="M432.79 443.12V443.55M430.99 443.12H434.59" stroke="#555" stroke-width="0.7" fill="none"/>
<path d="M432.79 443.55V443.99M430.99 443.99H434.59" stroke="#1a1a1a" stroke-width="0.75" fill="none"/>
<rect x="442.78" y="438.49" width="5.50" height="11.82" fill="#666" stroke="#2c2c2c" stroke-width="0.7"/>
<path d="M445.53 437.67V438.19M443.73 437.67H447.33" stroke="#555" stroke-width="0.7" fill="none"/>
<path d="M445.53 438.19V438.71M443.73 438.71H447.33" stroke="#1a1a1a" stroke-width="0.75" fill="none"/>
<rect x="455.53" y="443.94" width="5.50" height="6.36" fill="#666" stroke="#2c2c2c" stroke-width="0.7"/>
<path d="M458.28 442.95V443.64M456.48 442.95H460.08" stroke="#555" stroke-width="0.7" fill="none"/>
<path d="M458.28 443.64V444.33M456.48 444.33H460.08" stroke="#1a1a1a" stroke-width="0.75" fill="none"/>
<rect x="468.28" y="445.67" width="5.50" height="4.63" fill="#666" stroke="#2c2c2c" stroke-width="0.7"/>
<path d="M471.03 444.94V445.37M469.23 444.94H472.83" stroke="#555" stroke-width="0.7" fill="none"/>
<path d="M471.03 445.37V445.80M469.23 445.80H472.83" stroke="#1a1a1a" stroke-width="0.75" fill="none"/>
<text x="283.6" y="467.5" font-size="8.3" text-anchor="end" font-weight="normal" font-style="normal" fill="#111" stroke="#111" stroke-width="0.22">5CHQ (µmol/L)</text>
<text x="283.6" y="476.9" font-size="8.3" text-anchor="end" font-weight="normal" font-style="normal" fill="#111" stroke="#111" stroke-width="0.22">IR</text>
<text x="292.5733333333333" y="467.7" font-size="9.4" text-anchor="middle" font-weight="normal" font-style="normal" fill="#222" stroke="#222" stroke-width="0.22">−</text>
<text x="292.5733333333333" y="477.8" font-size="9.4" text-anchor="middle" font-weight="normal" font-style="normal" fill="#222" stroke="#222" stroke-width="0.22">−</text>
<text x="305.32" y="467.7" font-size="9.4" text-anchor="middle" font-weight="normal" font-style="normal" fill="#222" stroke="#222" stroke-width="0.22">−</text>
<text x="305.32" y="477.8" font-size="9.4" text-anchor="middle" font-weight="normal" font-style="normal" fill="#222" stroke="#222" stroke-width="0.22">+</text>
<text x="318.06666666666666" y="467.5" font-size="8.5" text-anchor="middle" font-weight="normal" font-style="normal" fill="#222" stroke="#222" stroke-width="0.22">10</text>
<text x="318.06666666666666" y="477.8" font-size="9.4" text-anchor="middle" font-weight="normal" font-style="normal" fill="#222" stroke="#222" stroke-width="0.22">+</text>
<text x="330.81333333333333" y="467.5" font-size="8.5" text-anchor="middle" font-weight="normal" font-style="normal" fill="#222" stroke="#222" stroke-width="0.22">20</text>
<text x="330.81333333333333" y="477.8" font-size="9.4" text-anchor="middle" font-weight="normal" font-style="normal" fill="#222" stroke="#222" stroke-width="0.22">+</text>
<text x="343.56" y="467.5" font-size="8.5" text-anchor="middle" font-weight="normal" font-style="normal" fill="#222" stroke="#222" stroke-width="0.22">40</text>
<text x="343.56" y="477.8" font-size="9.4" text-anchor="middle" font-weight="normal" font-style="normal" fill="#222" stroke="#222" stroke-width="0.22">+</text>
<text x="356.3066666666667" y="467.7" font-size="9.4" text-anchor="middle" font-weight="normal" font-style="normal" fill="#222" stroke="#222" stroke-width="0.22">−</text>
<text x="356.3066666666667" y="477.8" font-size="9.4" text-anchor="middle" font-weight="normal" font-style="normal" fill="#222" stroke="#222" stroke-width="0.22">−</text>
<text x="369.0533333333333" y="467.7" font-size="9.4" text-anchor="middle" font-weight="normal" font-style="normal" fill="#222" stroke="#222" stroke-width="0.22">−</text>
<text x="369.0533333333333" y="477.8" font-size="9.4" text-anchor="middle" font-weight="normal" font-style="normal" fill="#222" stroke="#222" stroke-width="0.22">+</text>
<text x="381.79999999999995" y="467.5" font-size="8.5" text-anchor="middle" font-weight="normal" font-style="normal" fill="#222" stroke="#222" stroke-width="0.22">10</text>
<text x="381.79999999999995" y="477.8" font-size="9.4" text-anchor="middle" font-weight="normal" font-style="normal" fill="#222" stroke="#222" stroke-width="0.22">+</text>
<text x="394.5466666666666" y="467.5" font-size="8.5" text-anchor="middle" font-weight="normal" font-style="normal" fill="#222" stroke="#222" stroke-width="0.22">20</text>
<text x="394.5466666666666" y="477.8" font-size="9.4" text-anchor="middle" font-weight="normal" font-style="normal" fill="#222" stroke="#222" stroke-width="0.22">+</text>
<text x="407.2933333333333" y="467.5" font-size="8.5" text-anchor="middle" font-weight="normal" font-style="normal" fill="#222" stroke="#222" stroke-width="0.22">40</text>
<text x="407.2933333333333" y="477.8" font-size="9.4" text-anchor="middle" font-weight="normal" font-style="normal" fill="#222" stroke="#222" stroke-width="0.22">+</text>
<text x="420.03999999999996" y="467.7" font-size="9.4" text-anchor="middle" font-weight="normal" font-style="normal" fill="#222" stroke="#222" stroke-width="0.22">−</text>
<text x="420.03999999999996" y="477.8" font-size="9.4" text-anchor="middle" font-weight="normal" font-style="normal" fill="#222" stroke="#222" stroke-width="0.22">−</text>
<text x="432.78666666666663" y="467.7" font-size="9.4" text-anchor="middle" font-weight="normal" font-style="normal" fill="#222" stroke="#222" stroke-width="0.22">−</text>
<text x="432.78666666666663" y="477.8" font-size="9.4" text-anchor="middle" font-weight="normal" font-style="normal" fill="#222" stroke="#222" stroke-width="0.22">+</text>
<text x="445.5333333333333" y="467.5" font-size="8.5" text-anchor="middle" font-weight="normal" font-style="normal" fill="#222" stroke="#222" stroke-width="0.22">10</text>
<text x="445.5333333333333" y="477.8" font-size="9.4" text-anchor="middle" font-weight="normal" font-style="normal" fill="#222" stroke="#222" stroke-width="0.22">+</text>
<text x="458.28" y="467.5" font-size="8.5" text-anchor="middle" font-weight="normal" font-style="normal" fill="#222" stroke="#222" stroke-width="0.22">20</text>
<text x="458.28" y="477.8" font-size="9.4" text-anchor="middle" font-weight="normal" font-style="normal" fill="#222" stroke="#222" stroke-width="0.22">+</text>
<text x="471.02666666666664" y="467.5" font-size="8.5" text-anchor="middle" font-weight="normal" font-style="normal" fill="#222" stroke="#222" stroke-width="0.22">40</text>
<text x="471.02666666666664" y="477.8" font-size="9.4" text-anchor="middle" font-weight="normal" font-style="normal" fill="#222" stroke="#222" stroke-width="0.22">+</text>
</svg>
</body></html>
